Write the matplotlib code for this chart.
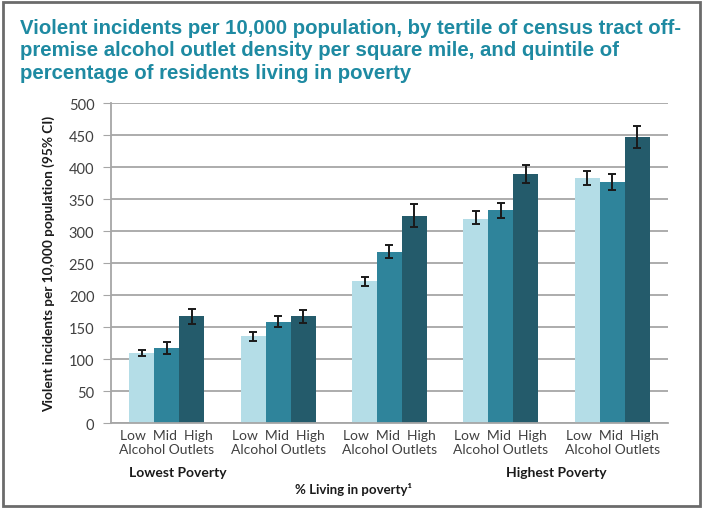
import matplotlib.pyplot as plt
import numpy as np
from matplotlib.patches import Rectangle
from matplotlib.transforms import blended_transform_factory

groups = ['Lowest Poverty', '', '', '', 'Highest Poverty']
tiers = ['Low', 'Mid', 'High']
tier_caption = 'Alcohol Outlets'

low_vals = [110, 136, 222, 320, 383]
low_ci_lo = [105, 129, 214, 311, 373]
low_ci_hi = [115, 143, 229, 331, 394]

mid_vals = [118, 159, 268, 333, 377]
mid_ci_lo = [109, 151, 258, 321, 364]
mid_ci_hi = [127, 168, 279, 345, 390]

high_vals = [167, 167, 324, 389, 447]
high_ci_lo = [155, 157, 306, 376, 430]
high_ci_hi = [179, 177, 342, 404, 465]

colors = ['#b4dde7', '#2f849b', '#245b6b']
title_color = '#1e8aa2'
label_font = ['Lato', 'DejaVu Sans']

fig = plt.figure(figsize=(7.03, 5.10), dpi=100)
ax = fig.add_axes([0.158, 0.168, 0.792, 0.6275])

x = np.arange(len(groups))
w = 0.224
series = [(low_vals, low_ci_lo, low_ci_hi),
          (mid_vals, mid_ci_lo, mid_ci_hi),
          (high_vals, high_ci_lo, high_ci_hi)]

ax.set_axisbelow(True)
ax.yaxis.grid(True, color='#a6a6a6', lw=1.3)
for i, (vals, lo, hi) in enumerate(series):
    pos = x + (i - 1) * w
    vals = np.array(vals)
    err = [vals - np.array(lo), np.array(hi) - vals]
    ax.bar(pos, vals, width=w, color=colors[i], zorder=2)
    ax.errorbar(pos, vals, yerr=err, fmt='none', ecolor='#1a1a1a',
                elinewidth=1.4, capsize=3, capthick=1.4, zorder=3)

ax.set_xlim(-0.5, 4.5)
ax.set_ylim(0, 500)
ax.set_yticks(range(0, 501, 50))
ax.set_xticks(x)
ax.set_xticklabels(['  '.join(tiers) + '\n' + tier_caption] * len(x), fontsize=10,
                   color='#404040', family=label_font, linespacing=1.25)
ax.tick_params(axis='x', length=0, pad=4)
ax.tick_params(axis='y', length=6, color='#a6a6a6', labelsize=10.5,
               labelcolor='#404040', pad=6)
for t in ax.get_yticklabels():
    t.set_family(label_font)
for s in ['top', 'right']:
    ax.spines[s].set_visible(False)
for s in ['left', 'bottom']:
    ax.spines[s].set_color('#a6a6a6')
    ax.spines[s].set_linewidth(1.3)

trans = blended_transform_factory(ax.transData, fig.transFigure)
ax.text(0.1, 1 - 473 / 510, groups[0], transform=trans, ha='center', va='center',
        fontsize=10, fontweight='bold', color='#1a1a1a', family=label_font)
ax.text(3.5, 1 - 473 / 510, groups[4], transform=trans, ha='center', va='center',
        fontsize=10, fontweight='bold', color='#1a1a1a', family=label_font)
fig.text(353 / 703, 1 - 490 / 510, '% Living in poverty\u00b9', ha='center',
         va='center', fontsize=9.5, fontweight='bold', color='#1a1a1a', family=label_font)

ax.set_ylabel('Violent incidents per 10,000 population (95% CI)', fontsize=9.8,
              fontweight='bold', color='#1a1a1a', family=label_font, labelpad=10)

fig.text(20 / 703, 1 - 19 / 510,
         'Violent incidents per 10,000 population, by tertile of census tract off-\n'
         'premise alcohol outlet density per square mile, and quintile of\n'
         'percentage of residents living in poverty',
         ha='left', va='top', fontsize=14.7, fontweight='bold', color=title_color,
         family=['Liberation Sans', 'DejaVu Sans'], linespacing=1.22)

fig.patches.append(Rectangle((0.004, 0.006), 0.992, 0.988, transform=fig.transFigure,
                             fill=False, edgecolor='#6b6b6b', lw=2))

fig.savefig('out.png', dpi=100)
